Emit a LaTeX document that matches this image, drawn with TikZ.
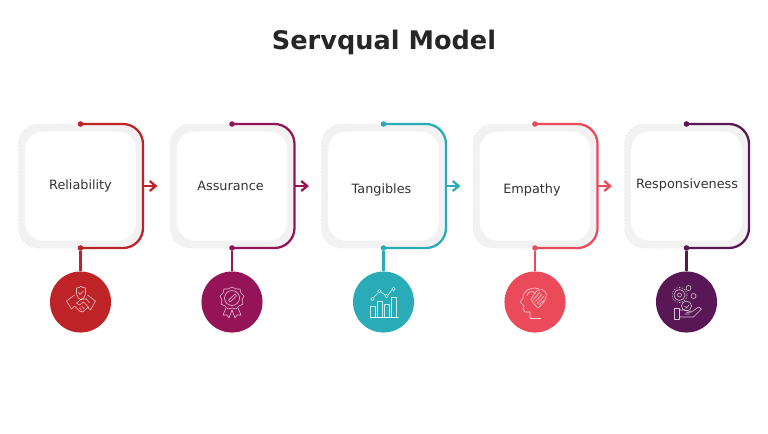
\documentclass[tikz,border=0pt]{standalone}
\usepackage{fontspec}
\setmainfont{DejaVu Sans}
\usetikzlibrary{arrows.meta}

\definecolor{reliabilityred}{RGB}{190,35,39}
\definecolor{assurancepink}{RGB}{149,20,88}
\definecolor{tangiblesteal}{RGB}{42,172,184}
\definecolor{empathycoral}{RGB}{234,74,90}
\definecolor{responsivepurple}{RGB}{90,23,85}

\tikzset{every picture/.style={line width=0.75pt}}
\tikzset{
  panel/.style={draw=black!8,dotted,fill=black!5,rounded corners=15pt,minimum width=93pt,minimum height=93pt,inner sep=0pt},
  panelface/.style={fill=white,rounded corners=14pt,minimum width=83pt,minimum height=82pt,inner sep=0pt},
  dot/.style={circle,inner sep=0pt,minimum size=4.2pt},
  disc/.style={circle,inner sep=0pt,minimum size=45.8pt},
  loopline/.style={line width=1.7pt,rounded corners=15pt},
  stem/.style={line width=1.9pt},
  flow/.style={line width=1.8pt,-{Straight Barb[length=4.5pt,width=7.5pt,line width=1.7pt]}},
  label/.style={inner sep=0.75pt,font=\fontsize{9.6pt}{12pt}\selectfont,text=black!80},
  iconline/.style={draw=white,draw opacity=0.75,line width=0.45pt,line join=round}
}

\begin{document}
\begin{tikzpicture}[x=0.75pt,y=0.75pt,yscale=-1,xscale=1]
\useasboundingbox (0,0) rectangle (768,433);

% Text Node
\node (title) [inner sep=0.75pt,font=\bfseries\fontsize{19.2pt}{24pt}\selectfont,text=black!85] at (384,42) {Servqual Model};

%Shape: Rounded Rect
\node (box1) [panel] at (80.5,186) {};
\node (box2) [panel] at (232,186) {};
\node (box3) [panel] at (383.5,186) {};
\node (box4) [panel] at (535,186) {};
\node (box5) [panel] at (686.5,186) {};
\node (face1) [panelface] at (80.5,186) {};
\node (face2) [panelface] at (232,186) {};
\node (face3) [panelface] at (383.5,186) {};
\node (face4) [panelface] at (535,186) {};
\node (face5) [panelface] at (686.5,186) {};

%Shape: Circle
\node (disc1) [disc,fill=reliabilityred] at (80.5,302) {};
\node (disc2) [disc,fill=assurancepink] at (232,302) {};
\node (disc3) [disc,fill=tangiblesteal] at (383.5,302) {};
\node (disc4) [disc,fill=empathycoral] at (535,302) {};
\node (disc5) [disc,fill=responsivepurple] at (686.5,302) {};

%Shape: Dots
\node (top1) [dot,fill=reliabilityred] at (80.5,124) {};
\node (bot1) [dot,fill=reliabilityred] at (80.5,248) {};
\node (top2) [dot,fill=assurancepink] at (232,124) {};
\node (bot2) [dot,fill=assurancepink] at (232,248) {};
\node (top3) [dot,fill=tangiblesteal] at (383.5,124) {};
\node (bot3) [dot,fill=tangiblesteal] at (383.5,248) {};
\node (top4) [dot,fill=empathycoral] at (535,124) {};
\node (bot4) [dot,fill=empathycoral] at (535,248) {};
\node (top5) [dot,fill=responsivepurple] at (686.5,124) {};
\node (bot5) [dot,fill=responsivepurple] at (686.5,248) {};

\coordinate (out1) at (143,186);
\coordinate (out2) at (294.5,186);
\coordinate (out3) at (446,186);
\coordinate (out4) at (597.5,186);
\coordinate (out5) at (749,186);
\coordinate (tip1) at (157.5,186);
\coordinate (tip2) at (309,186);
\coordinate (tip3) at (460.5,186);
\coordinate (tip4) at (612,186);

%Straight Lines
\draw [loopline,draw=reliabilityred] (top1.center) -| (out1) |- (bot1.center);
\draw [loopline,draw=assurancepink] (top2.center) -| (out2) |- (bot2.center);
\draw [loopline,draw=tangiblesteal] (top3.center) -| (out3) |- (bot3.center);
\draw [loopline,draw=empathycoral] (top4.center) -| (out4) |- (bot4.center);
\draw [loopline,draw=responsivepurple] (top5.center) -| (out5) |- (bot5.center);
\draw [stem,draw=reliabilityred] (bot1) -- (disc1);
\draw [stem,draw=assurancepink] (bot2) -- (disc2);
\draw [stem,draw=tangiblesteal] (bot3) -- (disc3);
\draw [stem,draw=empathycoral] (bot4) -- (disc4);
\draw [stem,draw=responsivepurple] (bot5) -- (disc5);
\draw [flow,draw=reliabilityred] (out1) -- (tip1);
\draw [flow,draw=assurancepink] (out2) -- (tip2);
\draw [flow,draw=tangiblesteal] (out3) -- (tip3);
\draw [flow,draw=empathycoral] (out4) -- (tip4);

% Text Node
\node (label1) [label] at (80.5,186) {Reliability};
\node (label2) [label] at (230.5,186) {Assurance};
\node (label3) [label] at (381.5,190) {Tangibles};
\node (label4) [label] at (532,190) {Empathy};
\node (label5) [label] at (687,185) {Responsiveness};

%Icon: handshake and shield
\begin{scope}[shift={(80.5,302)},iconline]
\draw (-4,-14) .. controls (-1,-14) and (0,-15) .. (0.5,-16) .. controls (1,-15) and (3,-14) .. (5,-14) -- (5,-8) .. controls (5,-5) and (2,-3) .. (0.5,-2) .. controls (-1,-3) and (-4,-5) .. (-4,-8) -- cycle;
\draw (-2,-10) -- (-0.5,-7.5) -- (3,-11);
\draw (-6,-7) -- (-14,-1) -- (-9,7) -- (-6,4);
\draw (7,-7) -- (15,-1) -- (10,8) -- (7,5);
\draw (-6,4) -- (-1,9) -- (2,10) -- (8,5) -- (3,0) -- (-1,3) -- (-4,1) -- (1,-3) -- (6,-3) -- (9,1);
\draw (-1,6) -- (1,8) (1,4) -- (4,7);
\end{scope}

%Icon: rosette
\begin{scope}[shift={(232,302)},iconline]
\draw (0,-15) -- (4,-13) -- (8,-13) -- (9,-9) -- (12,-6) -- (10,-2) -- (11,2) -- (7,4) -- (4,7) -- (0,6) -- (-4,7) -- (-7,4) -- (-11,2) -- (-10,-2) -- (-12,-6) -- (-9,-9) -- (-8,-13) -- (-4,-13) -- cycle;
\draw (0,-4) circle [radius=7.5];
\draw (-3.5,-2) -- (3,-8) -- (4.5,-6) -- (-2,0) -- cycle;
\draw (-6,6) -- (-9,13) -- (-5,13) -- (-3,16) -- (0,8);
\draw (6,6) -- (9,13) -- (5,13) -- (3,16) -- (0,8);
\end{scope}

%Icon: bar chart
\begin{scope}[shift={(383.5,302)},iconline]
\draw (-14,15) -- (15,15);
\draw (-13,15) rectangle (-8,4);
\draw (-6,15) rectangle (-1,-1);
\draw (1,15) rectangle (6,2);
\draw (8,15) rectangle (13,-5);
\draw (-11,-3) circle [radius=1.8] (-4,-11) circle [radius=1.8] (3,-6) circle [radius=1.8] (10,-13) circle [radius=1.8];
\draw (-10,-4.5) -- (-5,-9.5) (-2.5,-10) -- (1.5,-7) (4.5,-7) -- (8.5,-12);
\end{scope}

%Icon: head and heart
\begin{scope}[shift={(535,302)},iconline]
\draw (-5,16) -- (-5,10) -- (-10,10) -- (-12,7) -- (-11,4) -- (-15,0) -- (-12,-4) .. controls (-12,-11) and (-6,-14) .. (0,-14) .. controls (2,-14) and (3,-13) .. (4,-13);
\draw (-8,-6) .. controls (-8,-10) and (-3,-12) .. (0,-9);
\draw (0,-9) .. controls (3,-15) and (13,-13) .. (11,-5) .. controls (10,0) and (6,3) .. (3,6) .. controls (0,3) and (-3,0) .. (-4,-3);
\draw (-4,-3) -- (0,-9);
\draw (-2,-2) -- (5,-10) (0,0) -- (7,-8) (2,2) -- (9,-6) (4,3) -- (9,-2);
\draw (-5,16) -- (6,16);
\end{scope}

%Icon: hand and gears
\begin{scope}[shift={(686.5,302)},iconline]
\draw (-7,-7) circle [radius=5.5] (-7,-7) circle [radius=2];
\draw [dash pattern=on 1pt off 1pt] (-7,-7) circle [radius=7.5];
\draw (2,-14) circle [radius=2.5];
\draw (7,-6) circle [radius=2.5];
\draw (0,4) circle [radius=5];
\draw (-2,4) -- (0,6) -- (2.5,3);
\draw (-12,6) rectangle (-7,17);
\draw (-7,8) -- (-1,8) -- (5,10) -- (12,5) -- (15,7) -- (7,15) -- (-7,15);
\draw (-2,12) -- (3,12) (0,10.5) -- (5,10);
\end{scope}

\end{tikzpicture}
\end{document}
